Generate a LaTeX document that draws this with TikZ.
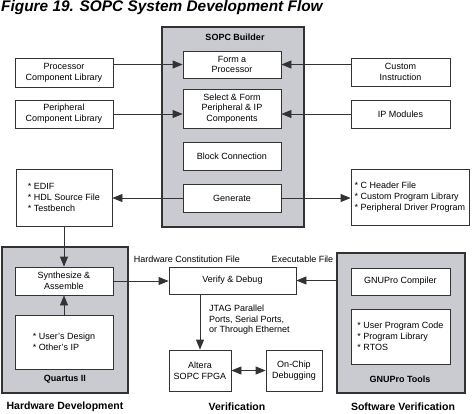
\documentclass[tikz,border=0pt]{standalone}
\usepackage{fontspec}
\setmainfont{Liberation Sans}
\usetikzlibrary{arrows.meta}
\definecolor{grayfill}{HTML}{C9CBD1}
\definecolor{edge}{HTML}{333333}
\tikzset{
  x=1pt,y=-1pt,
  grp/.style={draw=edge,line width=1.3pt,fill=grayfill},
  box/.style={draw=edge,line width=0.8pt,fill=white,inner sep=0pt,align=center,
    font=\fontsize{9}{10.8}\selectfont},
  lbox/.style={box,align=left},
  lbl/.style={inner sep=0pt,font=\fontsize{9}{10.8}\selectfont},
  grplbl/.style={inner sep=0pt,font=\fontsize{9}{10.8}\selectfont\bfseries},
  sect/.style={inner sep=0pt,font=\fontsize{10.5}{12}\selectfont\bfseries},
  arr/.style={draw=edge,line width=0.8pt,-{Triangle[length=10pt,width=8pt]}},
  darr/.style={draw=edge,line width=0.8pt,{Triangle[length=10pt,width=8pt]}-{Triangle[length=10pt,width=8pt]}}
}
\begin{document}
\begin{tikzpicture}
\useasboundingbox (0,0) rectangle (474,413);
% title
\node[anchor=west,inner sep=0pt,font=\fontsize{15.4}{17}\selectfont\bfseries\itshape] (title) at (1,8) {Figure 19. SOPC System Development Flow};
% group boxes
\node[grp,minimum width=142pt,minimum height=200pt,inner sep=0pt] (sopc) at (233,127) {};
\node[grp,minimum width=126pt,minimum height=146pt,inner sep=0pt] (quartus) at (65,320) {};
\node[grp,minimum width=128pt,minimum height=140pt,inner sep=0pt] (gnupro) at (401,323) {};
\node[grplbl] (sopclbl) at (235,37) {SOPC Builder};
\node[grplbl] (quartuslbl) at (65,379) {Quartus II};
\node[grplbl] (gnuprolbl) at (400,379) {GNUPro Tools};
% SOPC builder boxes
\node[box,minimum width=98pt,minimum height=27pt] (form) at (232,64.5) {Form a\\Processor};
\node[box,minimum width=98pt,minimum height=39pt] (select) at (232,108.5) {Select \& Form\\Peripheral \& IP\\Components};
\node[box,minimum width=98pt,minimum height=28pt] (block) at (232,156) {Block Connection};
\node[box,minimum width=98pt,minimum height=28pt] (generate) at (232,198) {Generate};
% left libraries
\node[box,minimum width=98pt,minimum height=29pt] (proclib) at (64,72.5) {Processor\\Component Library};
\node[box,minimum width=98pt,minimum height=28pt] (periphlib) at (64,114) {Peripheral\\Component Library};
% right inputs
\node[box,minimum width=99pt,minimum height=28pt] (custom) at (400.5,72) {Custom\\Instruction};
\node[box,minimum width=99pt,minimum height=28pt] (ipmod) at (400.5,114) {IP Modules};
% outputs of generate
\node[lbox,minimum width=96pt,minimum height=57pt] (edif) at (64,197.5) {* EDIF\\* HDL Source File\\* Testbench};
\node[lbox,minimum width=118pt,minimum height=56pt] (cheader) at (410,197) {* C Header File\\* Custom Program Library\\* Peripheral Driver Program};
% Quartus
\node[box,minimum width=98pt,minimum height=28pt] (synth) at (64,281) {Synthesize \&\\Assemble};
\node[lbox,minimum width=98pt,minimum height=54pt] (users) at (64,342) {* User's Design\\* Other's IP};
% verification
\node[box,minimum width=127pt,minimum height=27pt] (verify) at (232.5,280.5) {Verify \& Debug};
\node[box,minimum width=62pt,minimum height=41pt] (altera) at (200,370.5) {Altera\\SOPC FPGA};
\node[box,minimum width=56pt,minimum height=41pt] (onchip) at (294,370.5) {On-Chip\\Debugging};
% GNUPro
\node[box,minimum width=99pt,minimum height=27pt] (compiler) at (400.5,281.5) {GNUPro Compiler};
\node[lbox,minimum width=99pt,minimum height=55pt] (userprog) at (400.5,336.5) {* User Program Code\\* Program Library\\* RTOS};
% free labels
\node[lbl] (hwfile) at (187,259) {Hardware Constitution File};
\node[lbl] (exefile) at (302.5,259) {Executable File};
\node[lbl,anchor=north west,align=left] (jtag) at (209,304.5) {JTAG Parallel\\Ports, Serial Ports,\\or Through Ethernet};
\node[sect] (hwdev) at (65,407) {Hardware Development};
\node[sect] (verif) at (237,407) {Verification};
\node[sect] (swver) at (403,407) {Software Verification};
% connectors
\draw[arr] (proclib.east |- form.west) -- (form.west);
\draw[arr] (periphlib.east) -- (periphlib.east -| select.west);
\draw[arr] (custom.west |- form.east) -- (form.east);
\draw[arr] (ipmod.west) -- (ipmod.west -| select.east);
\draw[arr] (generate.west) -- (generate.west -| edif.east);
\draw[arr] (generate.east) -- (generate.east -| cheader.west);
\draw[arr] (edif.south) -- (synth.north);
\draw[arr] (users.north) -- (synth.south);
\draw[arr] (synth.east) -- (synth.east -| verify.west);
\draw[arr] (gnupro.west |- verify.east) -- (verify.east);
\draw[arr] (verify.south -| altera.north) -- (altera.north);
\draw[darr] (altera.east) -- (onchip.west);
\end{tikzpicture}
\end{document}
